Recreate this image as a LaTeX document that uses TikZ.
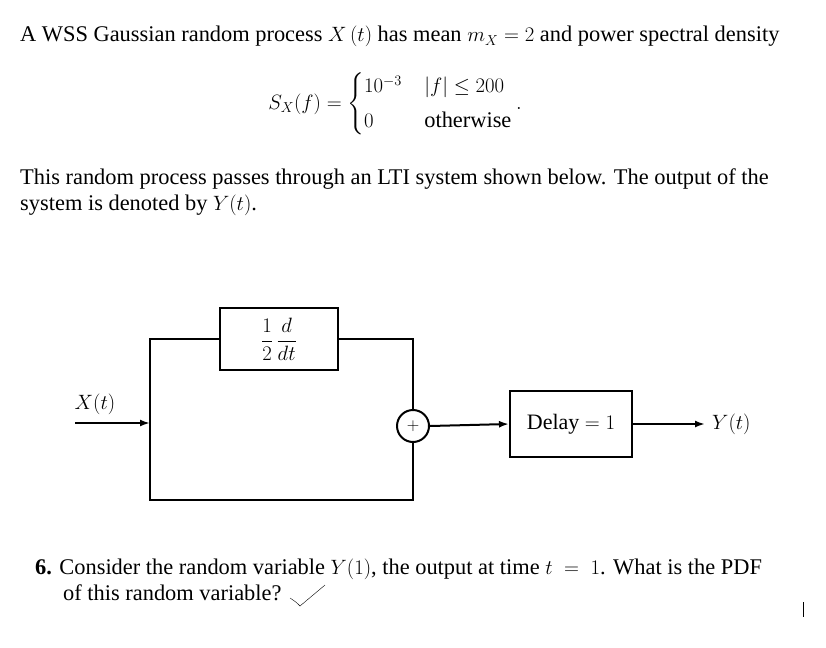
\documentclass[tikz,border=0pt]{standalone}
\usepackage{fontspec}
\setmainfont{Liberation Serif}
\usepackage{amsmath}
\usetikzlibrary{arrows.meta}
\begin{document}
\begin{tikzpicture}[x=1pt,y=-1pt,
  txt/.style={anchor=base west,inner sep=0pt,font=\fontsize{22.4}{26}\selectfont},
  blk/.style={draw,line width=2pt,minimum width=118pt,minimum height=62pt,inner sep=0pt},
  ln/.style={line width=2pt},
  ar/.style={line width=2pt,-{Latex[length=10pt,width=7pt]}}]
\useasboundingbox (0,0) rectangle (826,647);
\node[txt] (l1) at (20,42) {A WSS Gaussian random process $X\,(t)$ has mean $m_X=2$ and power spectral density};
\node[txt,anchor=center] (eq) at (395,104) {$S_X(f)=\begin{cases}10^{-3} & |f|\le 200\\[4pt] 0 & \text{otherwise}\end{cases}.$};
\node[txt] (l2) at (20,184) {This random process passes through an LTI system shown below. The output of the};
\node[txt] (l3) at (20,210) {system is denoted by $Y(t)$.};
% diagram
\coordinate (in) at (75,423);
\coordinate (br) at (150,423);
\node[blk] (d) at (279,339) {\fontsize{22}{22}\selectfont$\displaystyle\frac{1}{2}\,\frac{d}{dt}$};
\node[draw,line width=2pt,circle,minimum size=32pt,inner sep=0pt] (s) at (413,426) {\fontsize{16}{16}\selectfont$+$};
\node[blk,minimum width=122pt,minimum height=66pt] (dl) at (571,424) {\fontsize{22}{22}\selectfont Delay $=1$};
\coordinate (out) at (705,424);
\node[txt,anchor=center] (xl) at (95,404) {$X(t)$};
\node[txt,anchor=west] (yl) at (712,424) {$Y(t)$};
\draw[ar] (in) -- (br);
\draw[ln] (br) |- (d.west);
\draw[ln] (d.east) -| (s.north);
\draw[ln] (br) |- (413,500) -- (s.south);
\draw[ar] (s.east) -- (dl.west);
\draw[ar] (dl.east) -- (out);
% question
\node[txt] (q1) at (35,574) {\textbf{6.} Consider the random variable $Y(1)$, the output at time $t\;=\;1$. What is the PDF};
\node[txt] (q2) at (63,600) {of this random variable?};
\draw[thin] (290,598) .. controls (296,602) .. (300,606) .. controls (312,595) .. (325,585);
\draw (803,602) -- (803,617);
\end{tikzpicture}
\end{document}
